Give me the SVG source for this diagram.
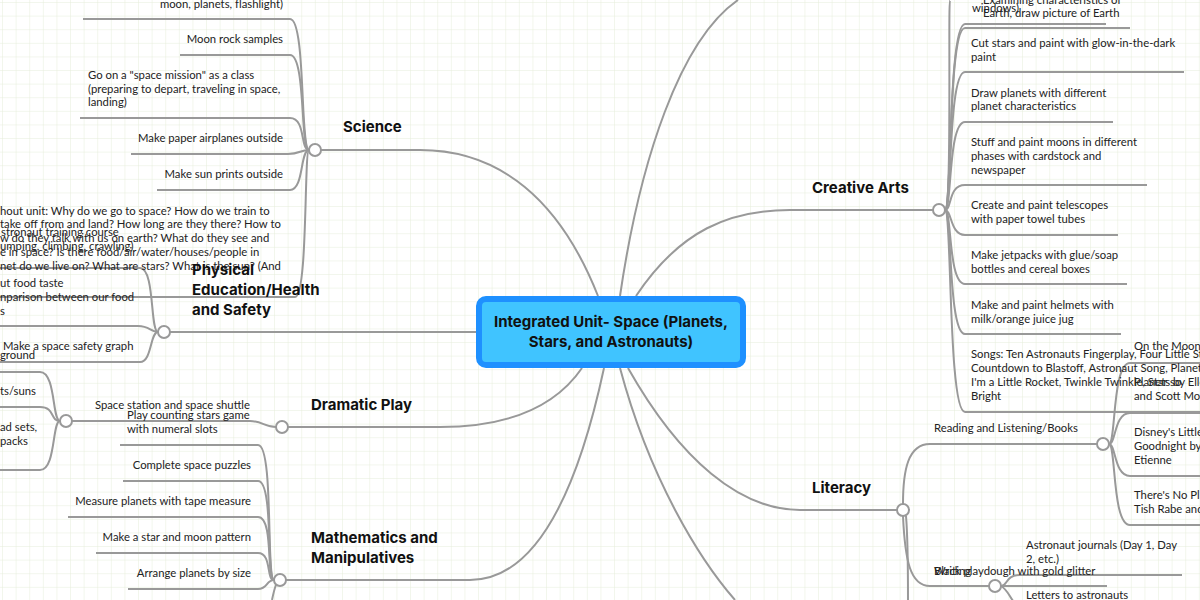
<svg xmlns="http://www.w3.org/2000/svg" width="1200" height="600" viewBox="0 0 1200 600">
<defs>
<pattern id="grid" width="13.6" height="13.6" patternUnits="userSpaceOnUse" x="3" y="3">
<path d="M13.6 0V13.6H0" fill="none" stroke="#e6eddb" stroke-width="1"/>
</pattern>
<style>
.c{fill:none;stroke:#999;stroke-width:2}
.d{fill:#fff;stroke:#999;stroke-width:2}
.t{font-family:Lato,"Open Sans",sans-serif;font-size:11.3px;fill:#222}
.r{text-anchor:end}
.b{font-family:Inter,"Open Sans",sans-serif;font-size:15px;font-weight:bold;fill:#111}
</style>
</defs>
<rect width="1200" height="600" fill="#fff"/>
<rect width="1200" height="600" fill="url(#grid)"/>
<g id="connectors">
<path class="c" d="M598,296 C560,200 500,150 420,150 H321"/>
<path class="c" d="M620,296 C640,160 680,40 738,0"/>
<path class="c" d="M636,296 C680,230 730,210 790,210 H933"/>
<path class="c" d="M476,332 H170"/>
<path class="c" d="M582,368 C560,400 520,427 440,427 H288"/>
<path class="c" d="M604,368 C580,480 540,580 470,580 H286"/>
<path class="c" d="M628,368 C680,460 740,510 800,510 H897"/>
<path class="c" d="M620,368 C650,480 700,560 735,600"/>
<path class="c" d="M309,150 C300,150 306,19 290,19 H83"/>
<path class="c" d="M309,150 C300,150 306,55 290,55 H180"/>
<path class="c" d="M309,150 C300,150 306,118 290,118 H80"/>
<path class="c" d="M309,150 C300,150 300,154 288,154 H131"/>
<path class="c" d="M309,150 C300,150 304,190 290,190 H157"/>
<path class="c" d="M309,150 C304,150 308,297 295,297 H0"/>
<path class="c" d="M158,332 C150,332 155,268 140,268 H0"/>
<path class="c" d="M158,332 C150,332 150,326 138,326 H0"/>
<path class="c" d="M158,332 C150,332 152,362 140,362 H0"/>
<path class="c" d="M276,427 C265,427 262,421 250,421 H72"/>
<path class="c" d="M60,421 C52,421 56,372 40,372 H0"/>
<path class="c" d="M60,421 C50,421 55,407 40,407 H0"/>
<path class="c" d="M60,421 C52,421 56,470 40,470 H0"/>
<path class="c" d="M274,580 C266,580 274,445 258,445 H120"/>
<path class="c" d="M274,580 C266,580 274,481 258,481 H123"/>
<path class="c" d="M274,580 C266,580 274,517 258,517 H68"/>
<path class="c" d="M274,580 C266,580 272,553 258,553 H96"/>
<path class="c" d="M274,580 C266,580 268,589 258,589 H128"/>
<path class="c" d="M276,585 C274,590 273,595 272,600"/>
<path class="c" d="M945,210 C952,210 948,0 950,0"/>
<path class="c" d="M945,210 C952,210 948,24 965,24 H1106"/>
<path class="c" d="M945,210 C952,210 948,28 965,28 H1130"/>
<path class="c" d="M945,210 C952,210 948,72 965,72 H1184"/>
<path class="c" d="M945,210 C952,210 948,122 965,122 H1113"/>
<path class="c" d="M945,210 C952,210 948,185 965,185 H1147"/>
<path class="c" d="M945,210 C952,210 950,235 965,235 H1118"/>
<path class="c" d="M945,210 C952,210 948,284 965,284 H1127"/>
<path class="c" d="M945,210 C952,210 948,334 965,334 H1121"/>
<path class="c" d="M945,210 C952,210 948,412 965,412 H1200"/>
<path class="c" d="M903,504 C903,470 908,444 930,444 H1097"/>
<path class="c" d="M903,516 C905,560 910,586 930,586 H989"/>
<path class="c" d="M906,516 C908,540 908,570 908,600"/>
<path class="c" d="M1109,444 C1116,444 1112,363 1130,363 H1200"/>
<path class="c" d="M1109,444 C1116,444 1114,413 1130,413 H1200"/>
<path class="c" d="M1109,444 C1116,444 1114,476 1130,476 H1200"/>
<path class="c" d="M1109,444 C1116,444 1112,525 1130,525 H1200"/>
<path class="c" d="M1001,586 C1008,586 1005,575 1020,575 H1182"/>
<path class="c" d="M1001,586 H1107"/>
<path class="c" d="M1001,586 C1008,590 1010,598 1014,602"/>
</g>
<g id="center">
<rect x="479" y="299" width="264" height="66" rx="7" fill="#40c4ff" stroke="#1e90ff" stroke-width="6"/>
<text class="b" x="611" y="327" text-anchor="middle">Integrated Unit- Space (Planets,</text>
<text class="b" x="611" y="347" text-anchor="middle">Stars, and Astronauts)</text>
</g>
<g id="science">
<circle class="d" cx="315" cy="150" r="6"/>
<text class="b" x="343" y="132">Science</text>
<text class="t r" x="283" y="8">moon, planets, flashlight)</text>
<text class="t r" x="283" y="43">Moon rock samples</text>
<text class="t" x="88" y="79">Go on a "space mission" as a class</text>
<text class="t" x="88" y="93">(preparing to depart, traveling in space,</text>
<text class="t" x="88" y="106">landing)</text>
<text class="t r" x="283" y="142">Make paper airplanes outside</text>
<text class="t r" x="283" y="178">Make sun prints outside</text>
<text class="t" x="0" y="215">hout unit: Why do we go to space? How do we train to</text>
<text class="t" x="0" y="228">take off from and land? How long are they there? How to</text>
<text class="t" x="0" y="242">w do they talk with us on earth? What do they see and</text>
<text class="t" x="0" y="256">e in space? Is there food/air/water/houses/people in</text>
<text class="t" x="0" y="270">net do we live on? What are stars? What is the sun? (And</text>
</g>
<g id="pe">
<circle class="d" cx="164" cy="332" r="6"/>
<text class="b" x="192" y="275">Physical</text>
<text class="b" x="192" y="295">Education/Health</text>
<text class="b" x="192" y="315">and Safety</text>
<text class="t" x="1" y="236">stronaut training course</text>
<text class="t" x="0" y="250">umping, climbing, crawling)</text>
<text class="t" x="0" y="287">ut food taste</text>
<text class="t" x="0" y="301">nparison between our food</text>
<text class="t" x="0" y="315">s</text>
<text class="t" x="3" y="350">Make a space safety graph</text>
<text class="t" x="0" y="359">ground</text>
</g>
<g id="dramatic">
<circle class="d" cx="282" cy="427" r="6"/>
<circle class="d" cx="66" cy="421" r="6"/>
<text class="b" x="311" y="410">Dramatic Play</text>
<text class="t r" x="250" y="409">Space station and space shuttle</text>
<text class="t" x="0" y="395">ts/suns</text>
<text class="t" x="0" y="431">ad sets,</text>
<text class="t" x="0" y="445">packs</text>
</g>
<g id="math">
<circle class="d" cx="280" cy="580" r="6"/>
<text class="b" x="311" y="543">Mathematics and</text>
<text class="b" x="311" y="563">Manipulatives</text>
<text class="t" x="127" y="419">Play counting stars game</text>
<text class="t" x="127" y="433">with numeral slots</text>
<text class="t r" x="251" y="469">Complete space puzzles</text>
<text class="t r" x="251" y="505">Measure planets with tape measure</text>
<text class="t r" x="251" y="541">Make a star and moon pattern</text>
<text class="t r" x="251" y="577">Arrange planets by size</text>
</g>
<g id="creative">
<circle class="d" cx="939" cy="210" r="6"/>
<text class="b" x="812" y="193">Creative Arts</text>
<text class="t" x="983" y="4">Examining characteristics of</text>
<text class="t" x="972" y="12">windows)</text>
<text class="t" x="983" y="17">Earth, draw picture of Earth</text>
<text class="t" x="971" y="47">Cut stars and paint with glow-in-the-dark</text>
<text class="t" x="971" y="61">paint</text>
<text class="t" x="971" y="97">Draw planets with different</text>
<text class="t" x="971" y="110">planet characteristics</text>
<text class="t" x="971" y="146">Stuff and paint moons in different</text>
<text class="t" x="971" y="160">phases with cardstock and</text>
<text class="t" x="971" y="174">newspaper</text>
<text class="t" x="971" y="209">Create and paint telescopes</text>
<text class="t" x="971" y="223">with paper towel tubes</text>
<text class="t" x="971" y="259">Make jetpacks with glue/soap</text>
<text class="t" x="971" y="273">bottles and cereal boxes</text>
<text class="t" x="971" y="309">Make and paint helmets with</text>
<text class="t" x="971" y="323">milk/orange juice jug</text>
<text class="t" x="971" y="358">Songs: Ten Astronauts Fingerplay, Four Little Stars,</text>
<text class="t" x="971" y="372">Countdown to Blastoff, Astronaut Song, Planets,</text>
<text class="t" x="971" y="386">I'm a Little Rocket, Twinkle Twinkle, Star so</text>
<text class="t" x="971" y="400">Bright</text>
</g>
<g id="literacy">
<circle class="d" cx="903" cy="510" r="6"/>
<circle class="d" cx="1103" cy="444" r="6"/>
<circle class="d" cx="995" cy="586" r="6"/>
<text class="b" x="812" y="493">Literacy</text>
<text class="t" x="934" y="432">Reading and Listening/Books</text>
<text class="t" x="1134" y="350">On the Moon</text>
<text class="t" x="1134" y="386">Planets by Ellen</text>
<text class="t" x="1134" y="400">and Scott Mo</text>
<text class="t" x="1134" y="436">Disney's Little</text>
<text class="t" x="1134" y="450">Goodnight by</text>
<text class="t" x="1134" y="464">Etienne</text>
<text class="t" x="1134" y="499">There's No Pl</text>
<text class="t" x="1134" y="513">Tish Rabe and</text>
<text class="t" x="934" y="575">Writing</text>
<text class="t" x="934" y="575">Black playdough with gold glitter</text>
<text class="t" x="1026" y="549">Astronaut journals (Day 1, Day</text>
<text class="t" x="1026" y="563">2, etc.)</text>
<text class="t" x="1026" y="599">Letters to astronauts</text>
</g>
</svg>
